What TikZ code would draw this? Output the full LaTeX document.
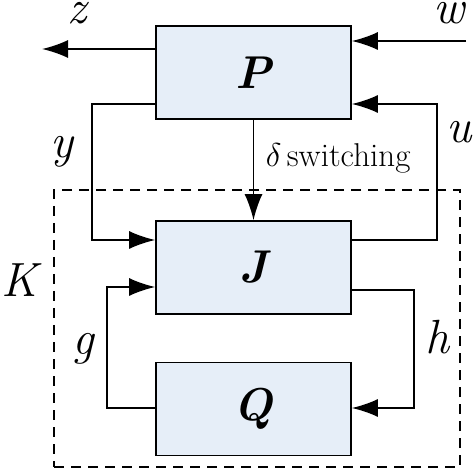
\RequirePackage{fix-cm}
\documentclass[tikz,border=0pt]{standalone}
\usetikzlibrary{arrows.meta}
\definecolor{boxfill}{RGB}{230,238,248}
\begin{document}
\begin{tikzpicture}[x=1pt, y=-1pt, line width=1.7pt,
    block/.style={draw, fill=boxfill, minimum width=195pt, minimum height=93pt, inner sep=0pt,
      font=\fontsize{46}{48}\selectfont\bfseries\itshape},
    sig/.style={inner sep=0pt, anchor=base, font=\fontsize{48}{50}\selectfont\itshape},
    >={Latex[length=26pt,width=18pt]}]
    \useasboundingbox (0,0) rectangle (474,470);

    % Nodes
    \node[block] (P) at (253.5,72.5) {P};
    \node[block] (J) at (253.5,267.5) {J};
    \node[block] (Q) at (253.5,409) {Q};
    \node[draw, dashed, line width=1.5pt, dash pattern=on 10pt off 7pt, minimum width=406pt, minimum height=277pt] (Kbox) at (257,328.5) {};

    % Corners
    \coordinate (zout) at (42,49);
    \coordinate (win) at (466,41);
    \coordinate (y1) at (92,104);
    \coordinate (y2) at (92,240);
    \coordinate (u1) at (437,240);
    \coordinate (u2) at (437,104);
    \coordinate (h1) at (414,290);
    \coordinate (h2) at (414,408);
    \coordinate (g1) at (107,408);
    \coordinate (g2) at (107,287);

    % Labels
    \node[sig] (lz) at (77,24) {z};
    \node[sig] (lw) at (449,24) {w};
    \node[sig] (ly) at (62,158) {y};
    \node[sig] (lu) at (459,143) {u};
    \node[sig] (lK) at (20,297) {K};
    \node[sig] (lg) at (83,355) {g};
    \node[sig] (lh) at (437,353) {h};
    \node[inner sep=0pt, anchor=base west, font=\fontsize{33}{35}\selectfont] (ld) at (265,167) {$\delta$\,switching};

    % Edges
    \draw[->] (P.west |- zout) -- (zout);
    \draw[->] (win) -- (P.east |- win);
    \draw[->] (P.west |- y1) -- (y1) -- (y2) -- (J.west |- y2);
    \draw[->] (J.east |- u1) -- (u1) -- (u2) -- (P.east |- u2);
    \draw[->] (P.south) -- (J.north);
    \draw[->] (J.east |- h1) -- (h1) -- (h2) -- (Q.east |- h2);
    \draw[->] (Q.west |- g1) -- (g1) -- (g2) -- (J.west |- g2);
\end{tikzpicture}
\end{document}
